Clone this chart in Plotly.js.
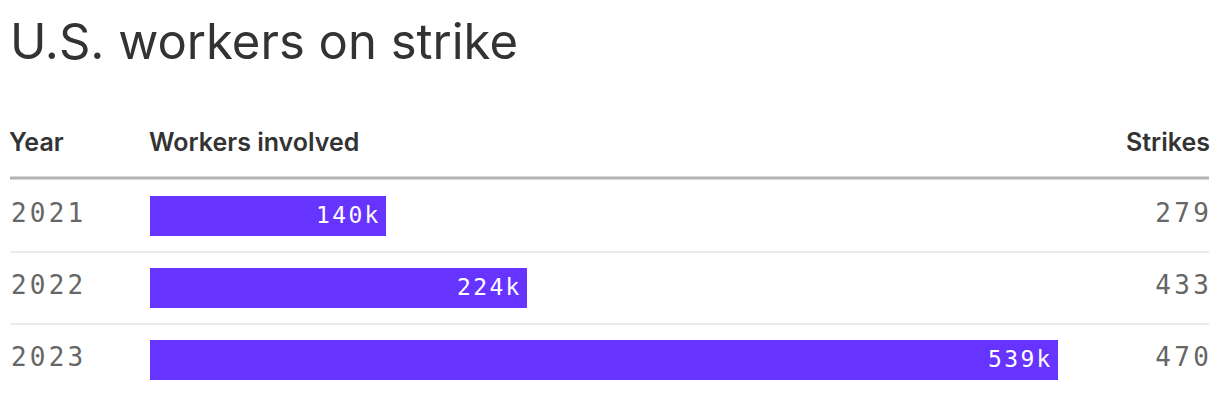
<!DOCTYPE html>
<html>
<head>
<meta charset="utf-8">
<script src="https://cdn.plot.ly/plotly-3.0.1.min.js"></script>
<style>
  html, body { margin: 0; padding: 0; background: #fff; }
  #chart { width: 1220px; height: 404px; }
</style>
</head>
<body>
<div id="chart"></div>
<script>
// ---- Data ----
const years = ['2021', '2022', '2023'];
const workersK = [140, 224, 539];        // workers involved, thousands
const workerLabels = ['140k', '224k', '539k'];
const strikes = [279, 433, 470];
const headers = ['Year', 'Workers involved', 'Strikes'];
const chartTitle = 'U.S. workers on strike';

// ---- Styles ----
const PURPLE = '#6633ff';
const MONO = '"DejaVu Sans Mono", "Liberation Mono", monospace';
const SANS = 'Inter, "Noto Sans", sans-serif';
const yIdx = years.map(function (_, i) { return i; });

const trace = {
  type: 'bar',
  orientation: 'h',
  y: years,
  x: workersK,
  marker: { color: PURPLE },
  width: 0.556,
  hoverinfo: 'skip',
  showlegend: false
};

const annotations = [];
const spacing = {};   // annotation index -> {ls, side}
const hdrFont = { family: SANS, size: 25, color: '#333', weight: 600 };
annotations.push({ text: headers[0], xref: 'paper', x: 0, xanchor: 'left', xshift: -3,
  yref: 'paper', y: 1, yshift: 36, yanchor: 'middle', showarrow: false, font: hdrFont });
annotations.push({ text: headers[1], xref: 'x', x: 0, xanchor: 'left', xshift: -3,
  yref: 'paper', y: 1, yshift: 36, yanchor: 'middle', showarrow: false, font: hdrFont });
annotations.push({ text: headers[2], xref: 'paper', x: 1, xanchor: 'right', xshift: 3,
  yref: 'paper', y: 1, yshift: 36, yanchor: 'middle', showarrow: false, font: hdrFont });

years.forEach(function (yr, i) {
  spacing[annotations.length] = { ls: 3.2, side: 'left' };
  annotations.push({ text: yr, xref: 'paper', x: 0, xanchor: 'left', xshift: -1, yshift: 3,
    yref: 'y', y: yIdx[i], yanchor: 'middle', showarrow: false,
    font: { family: MONO, size: 26, color: '#666' } });
  spacing[annotations.length] = { ls: 2.3, side: 'right' };
  annotations.push({ text: workerLabels[i], xref: 'x', x: workersK[i], xanchor: 'right', xshift: -5, yshift: 1,
    yref: 'y', y: yIdx[i], yanchor: 'middle', showarrow: false,
    font: { family: MONO, size: 23, color: '#ffffff' } });
  spacing[annotations.length] = { ls: 3.4, side: 'right' };
  annotations.push({ text: String(strikes[i]), xref: 'paper', x: 1, xanchor: 'right', xshift: 2, yshift: 3,
    yref: 'y', y: yIdx[i], yanchor: 'middle', showarrow: false,
    font: { family: MONO, size: 26, color: '#666' } });
});

const shapes = [
  { type: 'line', xref: 'paper', yref: 'paper', x0: 0, x1: 1, y0: 1, y1: 1,
    line: { color: '#b3b3b3', width: 3 } }
];
for (let k = 0; k < years.length - 1; k++) {
  shapes.push({ type: 'line', xref: 'paper', yref: 'y', x0: 0, x1: 1, y0: k + 0.5, y1: k + 0.5,
    line: { color: '#e6e6e6', width: 1.5 } });
}

const layout = {
  width: 1220,
  height: 404,
  margin: { l: 10, r: 11, t: 178, b: 8, pad: 0 },
  paper_bgcolor: '#ffffff',
  plot_bgcolor: '#ffffff',
  title: {
    text: chartTitle,
    xref: 'paper', x: 0, xanchor: 'left',
    yref: 'container', y: 1 - 42 / 404, yanchor: 'middle',
    font: { family: SANS, size: 49, color: '#333', weight: 400 }
  },
  xaxis: {
    domain: [140 / 1199, 1],
    range: [0, 1059 / 1.684],
    visible: false,
    fixedrange: true
  },
  yaxis: {
    type: 'category',
    range: [2.5, -0.528],
    autorange: false,
    showticklabels: false,
    showgrid: false,
    zeroline: false,
    showline: false,
    ticks: '',
    fixedrange: true
  },
  annotations: annotations,
  shapes: shapes,
  bargap: 0
};

Plotly.newPlot('chart', [trace], layout, { staticPlot: true, displayModeBar: false }).then(function () {
  document.querySelectorAll('#chart .annotation').forEach(function (g) {
    const idx = g.getAttribute('data-index');
    const sp = spacing[idx];
    if (!sp) return;
    const t = g.querySelector('text.annotation-text');
    if (!t) return;
    const n = t.textContent.length;
    t.style.letterSpacing = sp.ls + 'px';
    const x0 = parseFloat(t.getAttribute('x')) || 0;
    const dx = sp.side === 'left' ? n * sp.ls / 2 : -(n * sp.ls / 2 - sp.ls);
    t.setAttribute('x', x0 + dx);
  });
});
</script>
</body>
</html>
